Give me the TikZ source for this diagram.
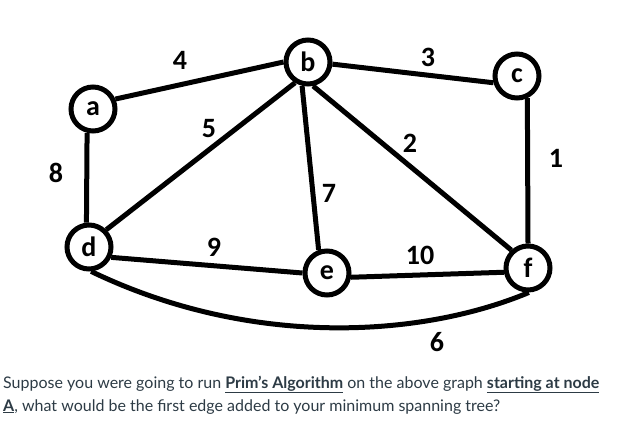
\documentclass[tikz,border=0pt]{standalone}
\usepackage{fontspec}
\setmainfont{Lato}
\newfontfamily\graphfont{Carlito}
\definecolor{canvastext}{HTML}{2D3B45}
\tikzset{
  vertex/.style={circle, draw=black, line width=5pt, minimum size=44pt, inner sep=0pt,
    font=\graphfont\bfseries\fontsize{28}{28}\selectfont},
  edge/.style={line width=5pt},
  weight/.style={font=\graphfont\bfseries\fontsize{28}{28}\selectfont}
}
\begin{document}
\begin{tikzpicture}[x=1pt, y=-1pt]
        \useasboundingbox (0,0) rectangle (621,442);

        % Vertici
        \node[vertex] (a) at (93,109) {a};
        \node[vertex] (b) at (308,62) {b};
        \node[vertex] (c) at (517,76) {c};
        \node[vertex] (d) at (89,247) {d};
        \node[vertex] (e) at (327,273) {e};
        \node[vertex] (f) at (528,268) {f};

        % Archi
        \draw[edge] (a.24) -- (b.180);
        \draw[edge] (b.-5) -- (c.-164);
        \draw[edge] (a.-104) -- (d.96);
        \draw[edge] (b.-122) -- (d.45);
        \draw[edge] (b.-104) -- (e.110);
        \draw[edge] (b.-78) -- (f.133);
        \draw[edge] (c.-65) -- (f.90);
        \draw[edge] (d.-25) -- (e.180);
        \draw[edge] (e.-10) -- (f.-170);
        \draw[edge] (d.-85) .. controls (250,348) and (420,338) .. (f.-88);

        % Pesi
        \node[weight] (w4) at (180,60) {4};
        \node[weight] (w3) at (428,57) {3};
        \node[weight] (w5) at (209,129) {5};
        \node[weight] (w2) at (410,143) {2};
        \node[weight] (w1) at (556,158) {1};
        \node[weight] (w8) at (56,173) {8};
        \node[weight] (w7) at (329,193) {7};
        \node[weight] (w9) at (214,247) {9};
        \node[weight] (w10) at (420,255) {10};
        \node[weight] (w6) at (437,342) {6};

        % Domanda
        \node[anchor=base west, inner sep=0pt, text=canvastext, align=left,
          font=\fontsize{16}{23}\selectfont] (question) at (3,411)
          {Suppose you were going to run \underline{\textbf{Prim's Algorithm}} on the above graph \underline{\textbf{starting at node}}\\
           \underline{\textbf{A}}, what would be the first edge added to your minimum spanning tree?};
\end{tikzpicture}
\end{document}
